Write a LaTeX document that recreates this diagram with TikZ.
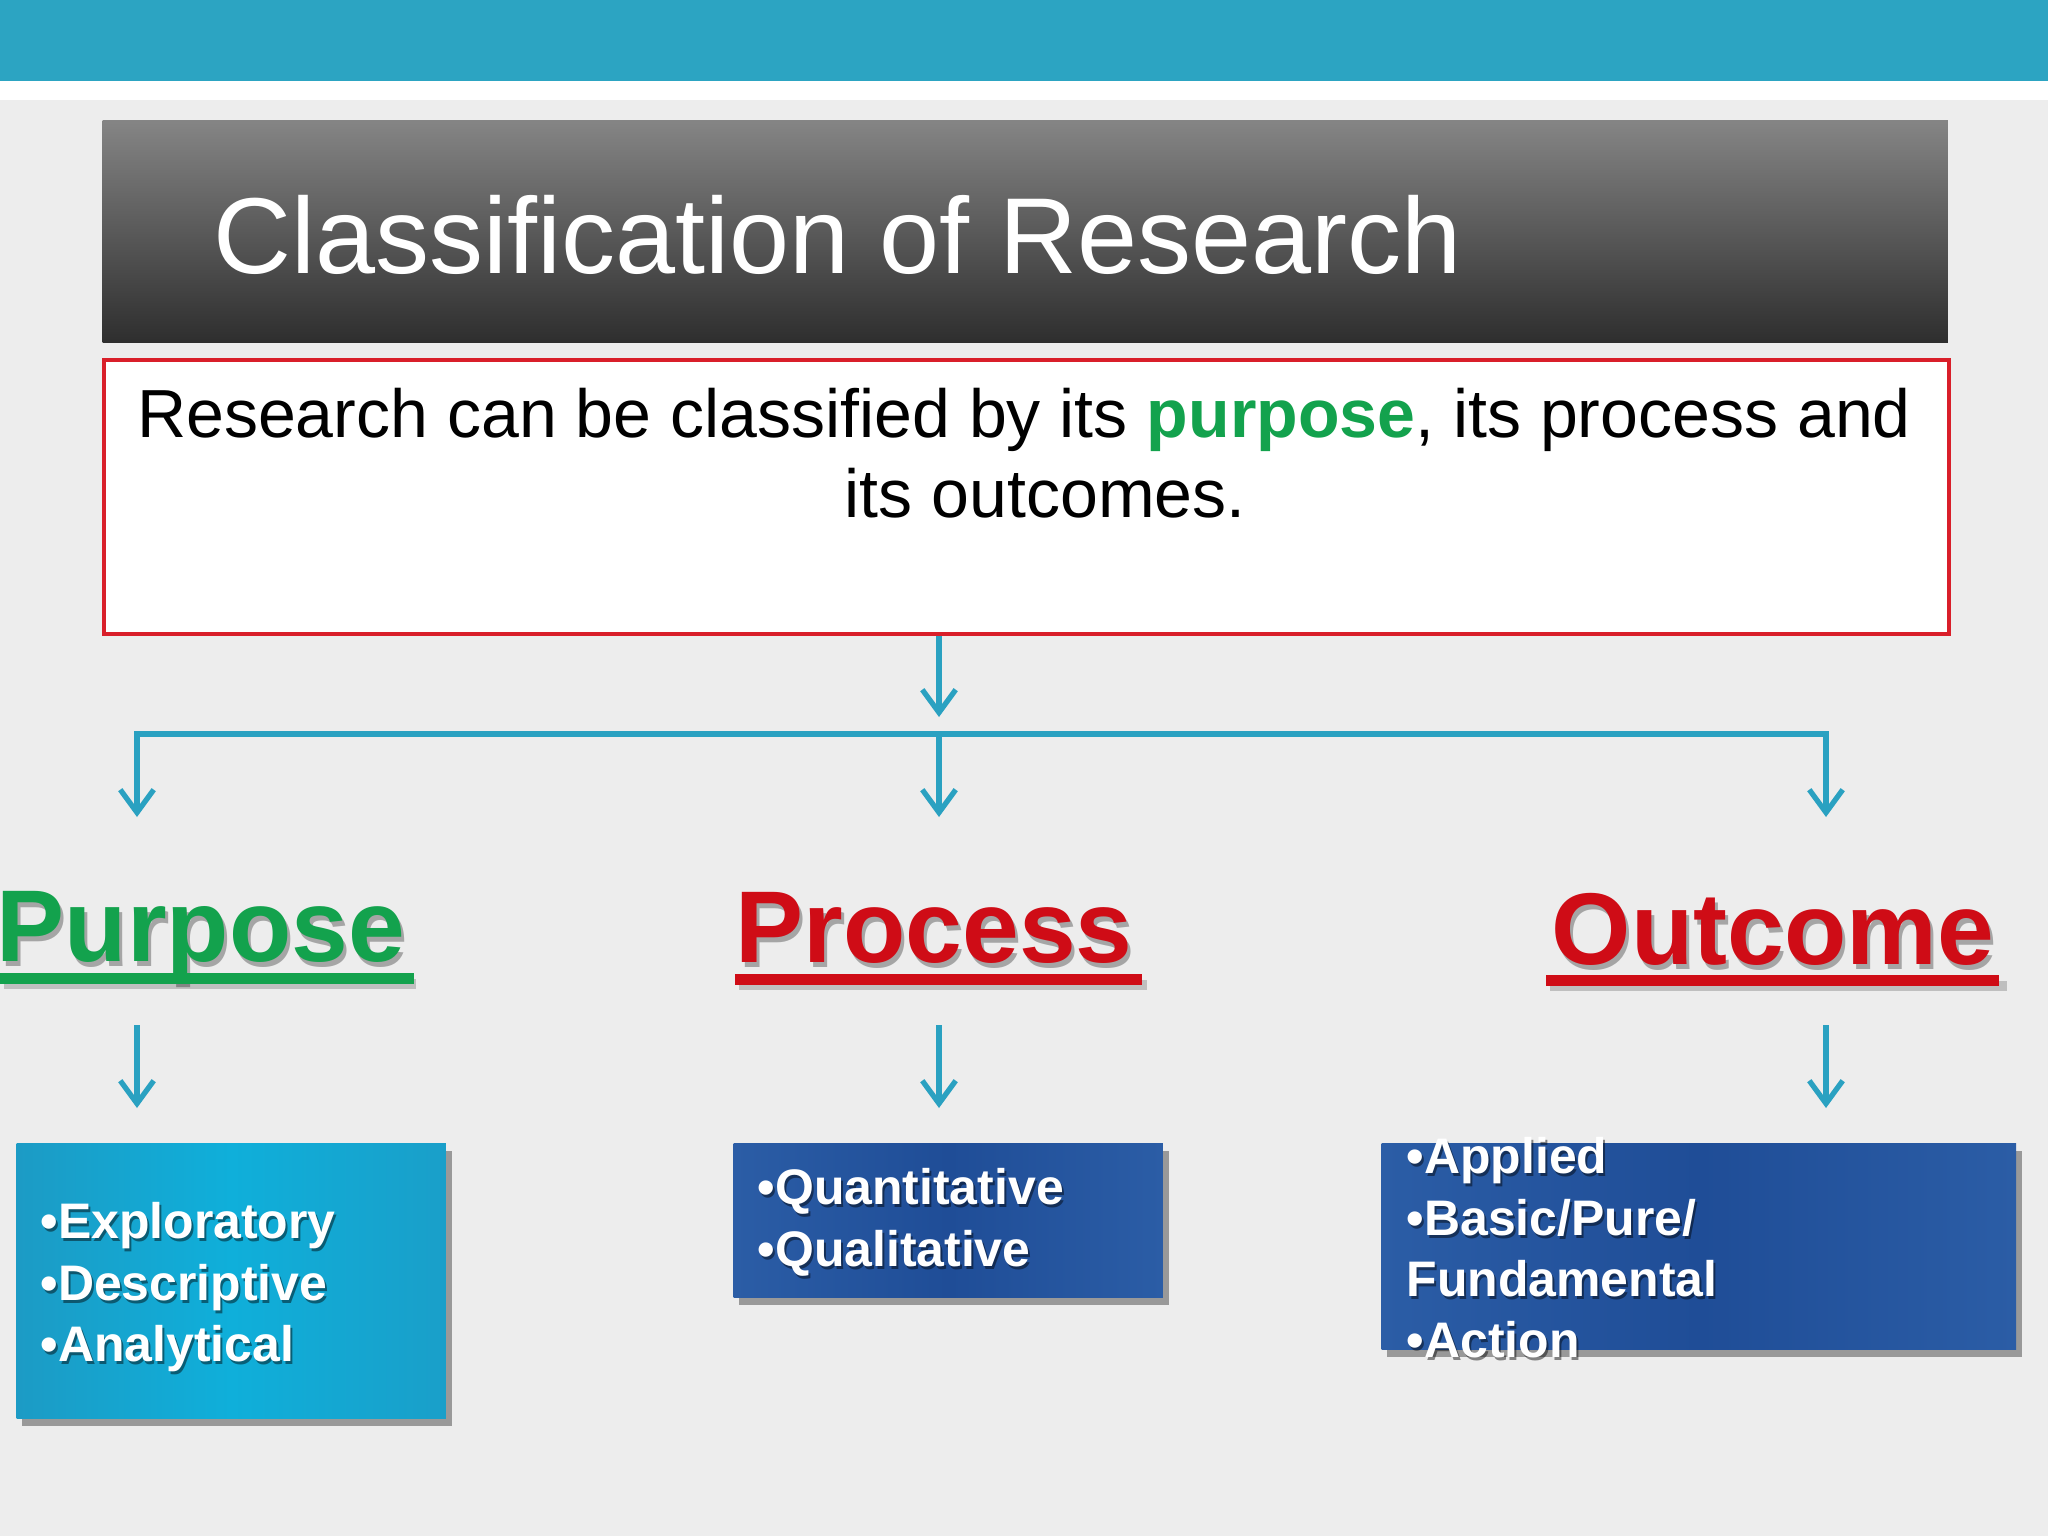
\documentclass[tikz,border=0pt]{standalone}
\usepackage{fontspec}
\setmainfont{Liberation Sans}
\usetikzlibrary{arrows.meta,shadows}

\definecolor{barteal}{HTML}{2CA4C2}
\definecolor{flowteal}{HTML}{2AA1C1}
\definecolor{paper}{HTML}{EDEDED}
\definecolor{framered}{HTML}{D91F2A}
\definecolor{purpgreen}{HTML}{13A24D}
\definecolor{headred}{HTML}{CF0C16}
\definecolor{cyanedge}{HTML}{1C9BC5}
\definecolor{cyanmid}{HTML}{0FAFDA}
\definecolor{blueedge}{HTML}{2B5DA6}
\definecolor{bluemid}{HTML}{1F4D97}

\tikzset{
  flow/.style={flowteal, line width=1.5pt},
  arr/.style={flow, -{Straight Barb[length=6.5pt,width=9.5pt]}},
  heading/.style={anchor=base west, inner sep=0pt, font=\fontsize{29}{34}\selectfont\bfseries},
  headshadow/.style={heading, text=black, text opacity=.3},
  ulstroke/.style={line width=3.1pt},
  catbox/.style={anchor=north west, inner sep=0pt,
    drop shadow={shadow xshift=1.6pt, shadow yshift=-2pt, opacity=.45, fill=black!80}},
  itemlist/.style={anchor=north west, inner sep=0pt, align=left, text=white,
    font=\fontsize{14.2}{17.4}\selectfont\bfseries},
  itemshadow/.style={itemlist, text=black, text opacity=.45},
}

\begin{document}
\begin{tikzpicture}[x=0.01cm, y=-0.01cm]
  \useasboundingbox (0,0) rectangle (2048,1536);
  % backdrop
  \fill[paper] (0,0) rectangle (2048,1536);
  \fill[white] (0,81) rectangle (2048,100);
  \fill[barteal] (0,0) rectangle (2048,81);

  % title and intro
  \node[anchor=north west, inner sep=0pt, minimum width=18.44cm, minimum height=2.22cm,
        top color=black!48, bottom color=black!82] (TB) at (102,120) {};
  \node[anchor=base west, inner sep=0pt, text=white, font=\fontsize{30.7}{36}\selectfont] (TT) at (213,273) {Classification of Research};
  \node[anchor=north west, inner sep=0pt, minimum width=18.44cm, minimum height=2.74cm,
        draw=framered, line width=1.1pt, fill=white] (IB) at (102,358) {};
  \node[anchor=north, inner sep=0pt, align=center, font=\fontsize{19.35}{23}\selectfont] (IT) at (1024,387)
        {Research can be classified by its \textcolor{purpgreen}{\bfseries purpose}, its process and\\\hspace*{12pt}its outcomes.};

  % split
  \coordinate (SP) at (939,734);
  \coordinate (ST) at (939,717);
  \coordinate (LT) at (137,817);
  \coordinate (MT) at (939,817);
  \coordinate (RT) at (1826,817);
  \draw[arr] (IB.south -| SP) -- (ST);
  \draw[arr] (SP) -| (LT);
  \draw[arr] (SP) -| (RT);
  \draw[arr] (SP) -- (MT);

  % headings
  \draw[ulstroke, black!25] (4,984) -- (416,984);
  \node[headshadow] (LHS) at (-1,966) {Purpose};
  \node[heading, text=purpgreen] (LH) at (-4,961) {Purpose};
  \draw[ulstroke, purpgreen] ([shift={(1.1pt,-5.1pt)}]LH.base west) -- ([shift={(2.3pt,-5.1pt)}]LH.base east);

  \draw[ulstroke, black!25] (739,985) -- (1147,985);
  \node[headshadow] (MHS) at (738,967) {Process};
  \node[heading, text=headred] (MH) at (735,962) {Process};
  \draw[ulstroke, headred] ([shift={(0pt,-5.1pt)}]MH.base west) -- ([shift={(2.5pt,-5.1pt)}]MH.base east);

  \draw[ulstroke, black!25] (1550,986) -- (2007,986);
  \node[headshadow] (RHS) at (1554,969) {Outcome};
  \node[heading, text=headred] (RH) at (1551,964) {Outcome};
  \draw[ulstroke, headred] ([shift={(-1.4pt,-4.8pt)}]RH.base west) -- ([shift={(1.4pt,-4.8pt)}]RH.base east);

  % second arrows
  \coordinate (LS) at (137,1025);
  \coordinate (LE) at (137,1108);
  \coordinate (MS) at (939,1025);
  \coordinate (ME) at (939,1108);
  \coordinate (RS) at (1826,1025);
  \coordinate (RE) at (1826,1108);
  \draw[arr] (LS) -- (LE);
  \draw[arr] (MS) -- (ME);
  \draw[arr] (RS) -- (RE);

  % boxes
  \node[catbox, minimum width=4.29cm, minimum height=2.75cm,
        left color=cyanedge, right color=cyanedge!80!cyanmid, middle color=cyanmid] (LB) at (16,1143) {};
  \node[catbox, minimum width=4.29cm, minimum height=1.54cm,
        left color=blueedge, right color=blueedge, middle color=bluemid] (MB) at (733,1143) {};
  \node[catbox, minimum width=6.34cm, minimum height=2.06cm,
        left color=blueedge, right color=blueedge, middle color=bluemid] (RB) at (1381,1143) {};

  % lists
  \node[itemshadow] (LLS) at (42,1205) {•Exploratory\\•Descriptive\\•Analytical};
  \node[itemlist] (LL) at (40,1202) {•Exploratory\\•Descriptive\\•Analytical};
  \node[itemshadow] (MLS) at (759,1171) {•Quantitative\\•Qualitative};
  \node[itemlist] (ML) at (757,1168) {•Quantitative\\•Qualitative};
  \node[itemshadow] (RLS) at (1408,1140) {•Applied\\•Basic/Pure/\\Fundamental\\•Action};
  \node[itemlist] (RL) at (1406,1137) {•Applied\\•Basic/Pure/\\Fundamental\\•Action};
\end{tikzpicture}
\end{document}
